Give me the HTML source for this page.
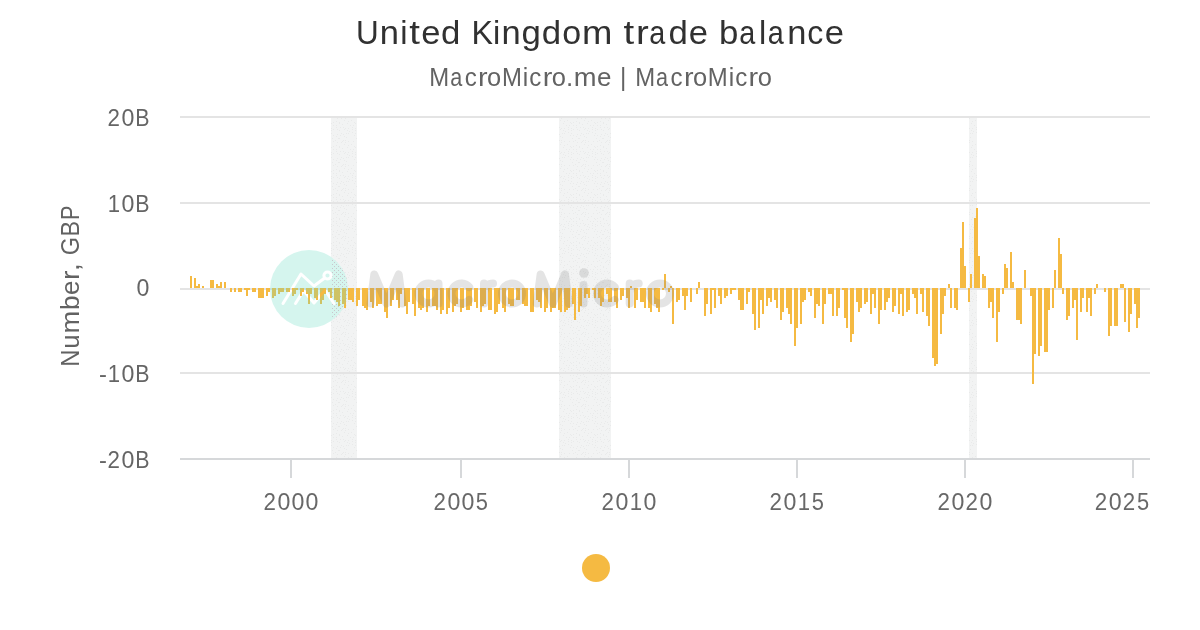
<!DOCTYPE html>
<html><head><meta charset="utf-8"><style>
html,body{margin:0;padding:0;background:#fff;width:1200px;height:630px;overflow:hidden}
svg{display:block;will-change:transform}
text{font-family:"Liberation Sans", sans-serif}
</style></head><body>
<svg width="1200" height="630" viewBox="0 0 1200 630">
<defs>
<path id="bars" d="M190 276h2v12h-2zM194 278h2v10h-2zM196 286h2v2h-2zM198 284h2v4h-2zM202 286h2v2h-2zM210 280h2v8h-2zM212 280h2v8h-2zM216 284h2v4h-2zM218 286h2v2h-2zM220 282h2v6h-2zM224 282h2v6h-2zM230 288h2v4h-2zM234 288h2v4h-2zM238 288h2v4h-2zM240 288h2v4h-2zM244 288h2v2h-2zM246 288h2v8h-2zM248 288h2v2h-2zM252 288h2v4h-2zM254 288h2v4h-2zM258 288h2v10h-2zM260 288h2v10h-2zM262 288h2v10h-2zM266 288h2v8h-2zM268 288h2v4h-2zM272 288h2v10h-2zM274 288h2v8h-2zM278 288h2v6h-2zM280 288h2v4h-2zM282 288h2v4h-2zM286 288h2v4h-2zM288 288h2v4h-2zM292 288h2v8h-2zM294 288h2v6h-2zM296 288h2v2h-2zM300 288h2v8h-2zM302 288h2v4h-2zM306 288h2v6h-2zM308 288h2v16h-2zM310 288h2v6h-2zM314 288h2v10h-2zM316 288h2v12h-2zM320 288h2v16h-2zM322 288h2v12h-2zM324 288h2v6h-2zM328 288h2v4h-2zM330 288h2v10h-2zM334 288h2v12h-2zM336 288h2v14h-2zM338 288h2v18h-2zM342 288h2v16h-2zM344 288h2v20h-2zM348 288h2v12h-2zM350 288h2v12h-2zM352 288h2v14h-2zM356 288h2v18h-2zM358 288h2v12h-2zM362 288h2v18h-2zM364 288h2v20h-2zM366 288h2v22h-2zM370 288h2v14h-2zM372 288h2v20h-2zM376 288h2v18h-2zM378 288h2v16h-2zM380 288h2v16h-2zM384 288h2v24h-2zM386 288h2v30h-2zM390 288h2v18h-2zM392 288h2v12h-2zM396 288h2v12h-2zM398 288h2v20h-2zM400 288h2v6h-2zM404 288h2v18h-2zM406 288h2v26h-2zM408 288h2v14h-2zM412 288h2v16h-2zM414 288h2v28h-2zM418 288h2v20h-2zM420 288h2v22h-2zM422 288h2v20h-2zM426 288h2v24h-2zM428 288h2v18h-2zM432 288h2v18h-2zM434 288h2v18h-2zM436 288h2v22h-2zM440 288h2v26h-2zM442 288h2v22h-2zM446 288h2v26h-2zM448 288h2v20h-2zM452 288h2v24h-2zM454 288h2v18h-2zM456 288h2v16h-2zM460 288h2v24h-2zM462 288h2v20h-2zM466 288h2v22h-2zM468 288h2v22h-2zM470 288h2v18h-2zM474 288h2v14h-2zM476 288h2v20h-2zM480 288h2v24h-2zM482 288h2v18h-2zM484 288h2v16h-2zM488 288h2v22h-2zM490 288h2v22h-2zM494 288h2v26h-2zM496 288h2v24h-2zM498 288h2v16h-2zM502 288h2v20h-2zM504 288h2v24h-2zM508 288h2v16h-2zM510 288h2v18h-2zM512 288h2v18h-2zM516 288h2v12h-2zM518 288h2v12h-2zM522 288h2v16h-2zM524 288h2v18h-2zM526 288h2v18h-2zM530 288h2v24h-2zM532 288h2v24h-2zM536 288h2v12h-2zM538 288h2v14h-2zM540 288h2v20h-2zM544 288h2v24h-2zM546 288h2v20h-2zM550 288h2v24h-2zM552 288h2v20h-2zM554 288h2v20h-2zM558 288h2v22h-2zM560 288h2v24h-2zM564 288h2v24h-2zM566 288h2v22h-2zM568 288h2v20h-2zM572 288h2v16h-2zM574 288h2v32h-2zM578 288h2v24h-2zM580 288h2v18h-2zM584 288h2v10h-2zM586 288h2v6h-2zM588 288h2v10h-2zM592 288h2v2h-2zM594 288h2v10h-2zM598 288h2v10h-2zM600 288h2v18h-2zM602 288h2v14h-2zM606 288h2v6h-2zM608 288h2v14h-2zM610 288h2v14h-2zM614 288h2v14h-2zM616 288h2v20h-2zM620 288h2v12h-2zM622 288h2v8h-2zM626 288h2v10h-2zM628 288h2v20h-2zM630 286h2v2h-2zM634 288h2v20h-2zM636 288h2v12h-2zM640 288h2v14h-2zM642 288h2v14h-2zM644 288h2v20h-2zM648 288h2v20h-2zM650 288h2v24h-2zM654 288h2v16h-2zM656 288h2v20h-2zM658 288h2v24h-2zM662 288h2v2h-2zM664 274h2v14h-2zM668 288h2v4h-2zM670 286h2v2h-2zM672 288h2v36h-2zM676 288h2v14h-2zM678 288h2v12h-2zM682 288h2v8h-2zM684 288h2v22h-2zM686 288h2v8h-2zM690 288h2v14h-2zM696 288h2v6h-2zM698 282h2v6h-2zM704 288h2v28h-2zM706 288h2v16h-2zM710 288h2v26h-2zM712 288h2v2h-2zM714 288h2v20h-2zM718 288h2v8h-2zM720 288h2v16h-2zM724 288h2v10h-2zM726 288h2v8h-2zM730 288h2v6h-2zM732 288h2v2h-2zM734 288h2v2h-2zM738 288h2v12h-2zM740 288h2v22h-2zM742 288h2v22h-2zM746 288h2v16h-2zM748 288h2v4h-2zM752 288h2v26h-2zM754 288h2v42h-2zM758 288h2v40h-2zM760 288h2v12h-2zM762 288h2v26h-2zM766 288h2v18h-2zM768 288h2v10h-2zM770 288h2v14h-2zM774 288h2v12h-2zM776 288h2v20h-2zM780 288h2v32h-2zM782 288h2v24h-2zM786 288h2v20h-2zM788 288h2v26h-2zM790 288h2v36h-2zM794 288h2v58h-2zM796 288h2v40h-2zM800 288h2v36h-2zM802 288h2v14h-2zM804 288h2v12h-2zM808 288h2v4h-2zM810 288h2v8h-2zM814 288h2v30h-2zM816 288h2v16h-2zM818 288h2v18h-2zM822 288h2v36h-2zM824 288h2v16h-2zM828 288h2v6h-2zM830 288h2v6h-2zM832 288h2v28h-2zM836 288h2v28h-2zM838 288h2v20h-2zM842 288h2v2h-2zM844 288h2v30h-2zM846 288h2v40h-2zM850 288h2v54h-2zM852 288h2v46h-2zM856 288h2v14h-2zM858 288h2v24h-2zM860 288h2v20h-2zM864 288h2v16h-2zM866 288h2v14h-2zM870 288h2v26h-2zM872 288h2v6h-2zM874 288h2v20h-2zM878 288h2v36h-2zM880 288h2v22h-2zM884 288h2v22h-2zM886 288h2v14h-2zM888 288h2v10h-2zM892 288h2v24h-2zM894 288h2v18h-2zM898 288h2v26h-2zM900 288h2v6h-2zM902 288h2v28h-2zM906 288h2v24h-2zM908 288h2v22h-2zM912 288h2v6h-2zM914 288h2v10h-2zM916 288h2v26h-2zM920 288h2v6h-2zM922 288h2v24h-2zM926 288h2v28h-2zM928 288h2v38h-2zM932 288h2v70h-2zM934 288h2v78h-2zM936 288h2v76h-2zM940 288h2v46h-2zM942 288h2v26h-2zM944 288h2v8h-2zM948 284h2v4h-2zM950 288h2v20h-2zM954 288h2v20h-2zM956 288h2v22h-2zM960 248h2v40h-2zM962 222h2v66h-2zM964 266h2v22h-2zM968 288h2v14h-2zM970 274h2v14h-2zM974 218h2v70h-2zM976 208h2v80h-2zM978 256h2v32h-2zM982 274h2v14h-2zM984 276h2v12h-2zM988 288h2v20h-2zM990 288h2v14h-2zM992 288h2v30h-2zM996 288h2v54h-2zM998 288h2v24h-2zM1002 288h2v6h-2zM1004 264h2v24h-2zM1006 268h2v20h-2zM1010 252h2v36h-2zM1012 282h2v6h-2zM1016 288h2v32h-2zM1018 288h2v32h-2zM1020 288h2v36h-2zM1024 270h2v18h-2zM1030 288h2v8h-2zM1032 288h2v96h-2zM1034 288h2v66h-2zM1038 288h2v68h-2zM1040 288h2v58h-2zM1044 288h2v64h-2zM1046 288h2v64h-2zM1048 288h2v22h-2zM1052 288h2v20h-2zM1054 270h2v18h-2zM1058 238h2v50h-2zM1060 254h2v34h-2zM1062 288h2v6h-2zM1066 288h2v32h-2zM1068 288h2v28h-2zM1072 288h2v20h-2zM1074 288h2v12h-2zM1076 288h2v52h-2zM1080 288h2v24h-2zM1082 288h2v10h-2zM1086 288h2v24h-2zM1088 288h2v10h-2zM1090 288h2v28h-2zM1094 288h2v6h-2zM1096 284h2v4h-2zM1104 288h2v4h-2zM1108 288h2v48h-2zM1110 288h2v38h-2zM1114 288h2v38h-2zM1116 288h2v38h-2zM1120 284h2v4h-2zM1122 284h2v4h-2zM1124 288h2v34h-2zM1128 288h2v44h-2zM1130 288h2v26h-2zM1134 288h2v16h-2zM1136 288h2v40h-2zM1138 288h2v30h-2z"/>
<pattern id="dots" x="0" y="0" width="24" height="24" patternUnits="userSpaceOnUse">
<rect width="24" height="24" fill="#f2f3f3"/>
<path d="M0 1h1v1h-1zM3 2h1v1h-1zM8 0h1v1h-1zM12 1h1v1h-1zM15 0h1v1h-1zM18 2h1v1h-1zM21 2h1v1h-1zM0 5h1v1h-1zM3 3h1v1h-1zM6 4h1v1h-1zM11 3h1v1h-1zM14 5h1v1h-1zM17 5h1v1h-1zM19 3h1v1h-1zM21 5h1v1h-1zM0 7h1v1h-1zM4 7h1v1h-1zM7 7h1v1h-1zM9 8h1v1h-1zM12 8h1v1h-1zM16 7h1v1h-1zM19 8h1v1h-1zM1 9h1v1h-1zM3 10h1v1h-1zM8 9h1v1h-1zM11 10h1v1h-1zM13 11h1v1h-1zM16 9h1v1h-1zM19 10h1v1h-1zM21 9h1v1h-1zM1 14h1v1h-1zM5 13h1v1h-1zM7 14h1v1h-1zM10 13h1v1h-1zM12 13h1v1h-1zM16 12h1v1h-1zM19 13h1v1h-1zM0 16h1v1h-1zM4 15h1v1h-1zM8 16h1v1h-1zM10 17h1v1h-1zM18 15h1v1h-1zM21 15h1v1h-1zM2 18h1v1h-1zM3 18h1v1h-1zM7 20h1v1h-1zM9 20h1v1h-1zM20 18h1v1h-1zM23 20h1v1h-1zM1 22h1v1h-1zM5 22h1v1h-1zM6 21h1v1h-1zM9 22h1v1h-1zM12 21h1v1h-1zM17 21h1v1h-1zM21 21h1v1h-1z" fill="#e9eaea"/>
</pattern>
<pattern id="dots2" x="0" y="0" width="4" height="4" patternUnits="userSpaceOnUse">
<path d="M0 0h1v1h-1zM2 2h1v1h-1z" fill="#c9c6cc"/>
</pattern>
<mask id="nocirc">
<rect x="0" y="0" width="1200" height="630" fill="#fff"/>
<circle cx="309" cy="289" r="39" fill="#000"/>
</mask>
<mask id="nobars">
<rect x="320" y="240" width="50" height="100" fill="#fff"/>
<use href="#bars" fill="#000" shape-rendering="crispEdges"/>
</mask>
<clipPath id="circclip"><circle cx="309" cy="289" r="39"/></clipPath>
<mask id="logo">
<rect x="260" y="240" width="100" height="100" fill="#fff"/>
<g fill="none" stroke="#000" stroke-width="3" stroke-linecap="round" stroke-linejoin="round">
<path d="M283 303.5L301 274L314 286L324 278.5"/>
<path d="M295.5 303.5L303.5 290.5L314 303L325 290L334 303.5"/>
<circle cx="327.5" cy="275.5" r="3.6"/>
</g>
</mask>
</defs>
<rect width="1200" height="630" fill="#fff"/>
<g shape-rendering="crispEdges">
<rect x="331" y="118" width="26" height="340" fill="url(#dots)" mask="url(#nocirc)"/>
<rect x="559" y="118" width="52" height="340" fill="url(#dots)"/>
<rect x="969" y="118" width="8" height="340" fill="url(#dots)"/>
<g fill="#e4e4e4">
<rect x="180" y="116" width="970" height="2"/>
<rect x="180" y="202" width="970" height="2"/>
<rect x="180" y="288" width="970" height="2"/>
<rect x="180" y="372" width="970" height="2"/>
</g>
<g fill="#d6d8da">
<rect x="180" y="458" width="970" height="2"/>
<rect x="290" y="458" width="2" height="20"/>
<rect x="460" y="458" width="2" height="20"/>
<rect x="628" y="458" width="2" height="20"/>
<rect x="796" y="458" width="2" height="20"/>
<rect x="964" y="458" width="2" height="20"/>
<rect x="1132" y="458" width="2" height="20"/>
</g>
<use href="#bars" fill="#f5ba42"/>
</g>
<g>
<circle cx="309" cy="289" r="39" fill="#69dbc2" fill-opacity="0.28" mask="url(#logo)"/>
<g clip-path="url(#circclip)" mask="url(#nobars)"><rect x="331" y="240" width="26" height="100" fill="url(#dots2)" mask="url(#logo)"/></g>
<path d="M370.5 303.5L374.3 274.5L386.5 303.5L398.7 274.5L402.5 303.5M418.5 293.5a10 10 0 1 0 20 0a10 10 0 1 0 -20 0M438.5 283.5V303.5M469.2 287.1A10 10 0 1 0 469.2 299.9M484 303.5V283.5M484 292.5Q486 283.5 493 283.5M502 293.5a10 10 0 1 0 20 0a10 10 0 1 0 -20 0M536.8 303.5L540.6 274.5L552.8 303.5L565.0 274.5L568.8 303.5M583.5 285V303.5M614.7 287.1A10 10 0 1 0 614.7 299.9M629.7 303.5V283.5M629.7 292.5Q631.7 283.5 638.7 283.5M650 293.5a10 10 0 1 0 20 0a10 10 0 1 0 -20 0" fill="none" stroke="#808080" stroke-opacity="0.21" stroke-width="8" stroke-linecap="round" stroke-linejoin="round"/>
<circle cx="584" cy="273" r="4.8" fill="#808080" fill-opacity="0.21"/>
</g>
<g fill="#313131" font-size="32"><text transform="matrix(0.9828 0 0 1.0600 356.11 44.00)">U</text><text transform="matrix(1.0782 0 0 1.0600 379.79 44.00)">n</text><text transform="matrix(1.0222 0 0 1.0600 400.29 44.00)">i</text><text transform="matrix(1.2000 0 0 1.0600 409.19 44.00)">t</text><text transform="matrix(1.0801 0 0 1.0600 421.20 44.00)">e</text><text transform="matrix(1.0869 0 0 1.0600 440.89 44.00)">d</text><text transform="matrix(1.0085 0 0 1.0600 471.56 44.00)">K</text><text transform="matrix(1.0222 0 0 1.0600 492.88 44.00)">i</text><text transform="matrix(1.0782 0 0 1.0600 501.56 44.00)">n</text><text transform="matrix(1.0869 0 0 1.0600 521.53 44.00)">g</text><text transform="matrix(1.0869 0 0 1.0600 541.84 44.00)">d</text><text transform="matrix(1.0631 0 0 1.0600 562.19 44.00)">o</text><text transform="matrix(1.1394 0 0 1.0600 581.91 44.00)">m</text><text transform="matrix(1.2000 0 0 1.0600 623.61 44.00)">t</text><text transform="matrix(1.2000 0 0 1.0600 636.00 44.00)">r</text><text transform="matrix(0.9000 0 0 1.0600 649.17 44.00)">a</text><text transform="matrix(1.0869 0 0 1.0600 668.39 44.00)">d</text><text transform="matrix(1.0801 0 0 1.0600 688.70 44.00)">e</text><text transform="matrix(1.0879 0 0 1.0600 718.92 44.00)">b</text><text transform="matrix(0.9000 0 0 1.0600 739.26 44.00)">a</text><text transform="matrix(1.0222 0 0 1.0600 758.99 44.00)">l</text><text transform="matrix(0.9000 0 0 1.0600 767.76 44.00)">a</text><text transform="matrix(1.0782 0 0 1.0600 787.29 44.00)">n</text><text transform="matrix(1.0034 0 0 1.0600 807.36 44.00)">c</text><text transform="matrix(1.0801 0 0 1.0600 824.85 44.00)">e</text></g>
<g fill="#636363" font-size="24"><text transform="matrix(0.9971 0 0 1.0600 429.31 86.00)">M</text><text transform="matrix(0.9000 0 0 1.0600 450.14 86.00)">a</text><text transform="matrix(1.0034 0 0 1.0600 464.63 86.00)">c</text><text transform="matrix(1.2000 0 0 1.0600 478.04 86.00)">r</text><text transform="matrix(1.0631 0 0 1.0600 487.11 86.00)">o</text><text transform="matrix(0.9971 0 0 1.0600 501.94 86.00)">M</text><text transform="matrix(1.0222 0 0 1.0600 522.87 86.00)">i</text><text transform="matrix(1.0034 0 0 1.0600 529.22 86.00)">c</text><text transform="matrix(1.2000 0 0 1.0600 542.64 86.00)">r</text><text transform="matrix(1.0631 0 0 1.0600 551.71 86.00)">o</text><text transform="matrix(1.0821 0 0 1.0600 565.91 86.00)">.</text><text transform="matrix(1.1394 0 0 1.0600 573.71 86.00)">m</text><text transform="matrix(1.0801 0 0 1.0600 596.96 86.00)">e</text><text transform="matrix(1.0241 0 0 1.0600 619.98 86.00)">|</text><text transform="matrix(0.9971 0 0 1.0600 635.24 86.00)">M</text><text transform="matrix(0.9000 0 0 1.0600 656.07 86.00)">a</text><text transform="matrix(1.0034 0 0 1.0600 670.55 86.00)">c</text><text transform="matrix(1.2000 0 0 1.0600 683.96 86.00)">r</text><text transform="matrix(1.0631 0 0 1.0600 693.03 86.00)">o</text><text transform="matrix(0.9971 0 0 1.0600 707.86 86.00)">M</text><text transform="matrix(1.0222 0 0 1.0600 728.79 86.00)">i</text><text transform="matrix(1.0034 0 0 1.0600 735.14 86.00)">c</text><text transform="matrix(1.2000 0 0 1.0600 748.56 86.00)">r</text><text transform="matrix(1.0631 0 0 1.0600 757.63 86.00)">o</text></g>
<g fill="#656565" font-size="22"><text transform="matrix(1.0161 0 0 1.0600 107.39 126.00)">2</text><text transform="matrix(1.0541 0 0 1.0600 121.43 126.00)">0</text><text transform="matrix(0.9716 0 0 1.0600 135.30 126.00)">B</text></g>
<g fill="#656565" font-size="22"><text transform="matrix(1.0068 0 0 1.0600 107.64 212.00)">1</text><text transform="matrix(1.0541 0 0 1.0600 121.43 212.00)">0</text><text transform="matrix(0.9716 0 0 1.0600 135.30 212.00)">B</text></g>
<g fill="#656565" font-size="22"><text transform="matrix(1.0541 0 0 1.0600 136.54 296.00)">0</text></g>
<g fill="#656565" font-size="22"><text transform="matrix(1.0780 0 0 1.0600 98.99 382.00)">-</text><text transform="matrix(1.0068 0 0 1.0600 107.64 382.00)">1</text><text transform="matrix(1.0541 0 0 1.0600 121.43 382.00)">0</text><text transform="matrix(0.9716 0 0 1.0600 135.30 382.00)">B</text></g>
<g fill="#656565" font-size="22"><text transform="matrix(1.0780 0 0 1.0600 98.99 468.00)">-</text><text transform="matrix(1.0161 0 0 1.0600 107.39 468.00)">2</text><text transform="matrix(1.0541 0 0 1.0600 121.43 468.00)">0</text><text transform="matrix(0.9716 0 0 1.0600 135.30 468.00)">B</text></g>
<g fill="#686868" font-size="22"><text transform="matrix(1.0161 0 0 1.0600 263.49 510.00)">2</text><text transform="matrix(1.0541 0 0 1.0600 277.53 510.00)">0</text><text transform="matrix(1.0541 0 0 1.0600 291.53 510.00)">0</text><text transform="matrix(1.0541 0 0 1.0600 305.53 510.00)">0</text></g>
<g fill="#686868" font-size="22"><text transform="matrix(1.0161 0 0 1.0600 433.49 510.00)">2</text><text transform="matrix(1.0541 0 0 1.0600 447.53 510.00)">0</text><text transform="matrix(1.0541 0 0 1.0600 461.53 510.00)">0</text><text transform="matrix(0.9949 0 0 1.0600 475.81 510.00)">5</text></g>
<g fill="#686868" font-size="22"><text transform="matrix(1.0161 0 0 1.0600 601.49 510.00)">2</text><text transform="matrix(1.0541 0 0 1.0600 615.53 510.00)">0</text><text transform="matrix(1.0068 0 0 1.0600 629.71 510.00)">1</text><text transform="matrix(1.0541 0 0 1.0600 643.53 510.00)">0</text></g>
<g fill="#686868" font-size="22"><text transform="matrix(1.0161 0 0 1.0600 769.49 510.00)">2</text><text transform="matrix(1.0541 0 0 1.0600 783.53 510.00)">0</text><text transform="matrix(1.0068 0 0 1.0600 797.71 510.00)">1</text><text transform="matrix(0.9949 0 0 1.0600 811.81 510.00)">5</text></g>
<g fill="#686868" font-size="22"><text transform="matrix(1.0161 0 0 1.0600 937.49 510.00)">2</text><text transform="matrix(1.0541 0 0 1.0600 951.53 510.00)">0</text><text transform="matrix(1.0161 0 0 1.0600 965.47 510.00)">2</text><text transform="matrix(1.0541 0 0 1.0600 979.53 510.00)">0</text></g>
<g fill="#686868" font-size="22"><text transform="matrix(1.0161 0 0 1.0600 1094.69 510.00)">2</text><text transform="matrix(1.0541 0 0 1.0600 1108.73 510.00)">0</text><text transform="matrix(1.0161 0 0 1.0600 1122.67 510.00)">2</text><text transform="matrix(0.9949 0 0 1.0600 1137.01 510.00)">5</text></g>
<g transform="translate(79 286.5) rotate(-90)" fill="#626262" font-size="24"><text transform="matrix(0.9878 0 0 1.0600 -80.19 0.00)">N</text><text transform="matrix(1.0782 0 0 1.0600 -62.29 0.00)">u</text><text transform="matrix(1.1394 0 0 1.0600 -47.08 0.00)">m</text><text transform="matrix(1.0879 0 0 1.0600 -23.57 0.00)">b</text><text transform="matrix(1.0801 0 0 1.0600 -8.61 0.00)">e</text><text transform="matrix(1.2000 0 0 1.0600 6.44 0.00)">r</text><text transform="matrix(1.2000 0 0 1.0600 15.37 0.00)">,</text><text transform="matrix(0.9753 0 0 1.0600 31.23 0.00)">G</text><text transform="matrix(0.9716 0 0 1.0600 50.11 0.00)">B</text><text transform="matrix(0.9000 0 0 1.0600 66.60 0.00)">P</text></g><circle cx="596" cy="568" r="14" fill="#f5ba42"/>
</svg>
</body></html>
